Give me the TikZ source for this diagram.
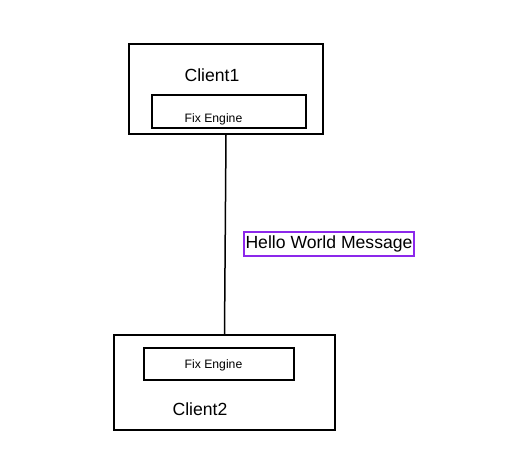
\documentclass[tikz,border=0pt]{standalone}
\usepackage{fontspec}
\setmainfont{Liberation Sans}
\usetikzlibrary{calc}
\definecolor{msgpurple}{RGB}{140,40,235}

\begin{document}
\begin{tikzpicture}[x=1pt,y=-1pt,
	outerbox/.style={draw, line width=1.5pt, inner sep=0pt},
	enginebox/.style={draw, line width=1.5pt, inner sep=0pt},
	bigtxt/.style={anchor=base, inner sep=0pt, font=\fontsize{17.6}{20}\selectfont},
	smalltxt/.style={anchor=base, inner sep=0pt, font=\fontsize{12.2}{14}\selectfont}]
	\useasboundingbox (0,0) rectangle (522,467);
	% client 1
	\node[outerbox, minimum width=194pt, minimum height=90pt] (c1) at (226,89) {};
	\node[enginebox, minimum width=154pt, minimum height=33pt] (e1) at (229,111.5) {};
	\node[bigtxt] (t1) at (212,81) {Client1};
	\node[smalltxt] (f1) at (213.5,122) {Fix Engine};
	% client 2
	\node[outerbox, minimum width=221pt, minimum height=95pt] (c2) at (224.5,382.5) {};
	\node[enginebox, minimum width=150pt, minimum height=32pt] (e2) at (219,364) {};
	\node[smalltxt] (f2) at (213.5,368) {Fix Engine};
	\node[bigtxt] (t2) at (200,415) {Client2};
	% message
	\draw[line width=1.5pt] (c1.south) -- (c2.north);
	\node[draw=msgpurple, line width=1.2pt, minimum width=170pt, minimum height=24pt, inner sep=0pt,
		font=\fontsize{17.6}{20}\selectfont] (msg) at (329,244) {Hello World Message};
\end{tikzpicture}
\end{document}
